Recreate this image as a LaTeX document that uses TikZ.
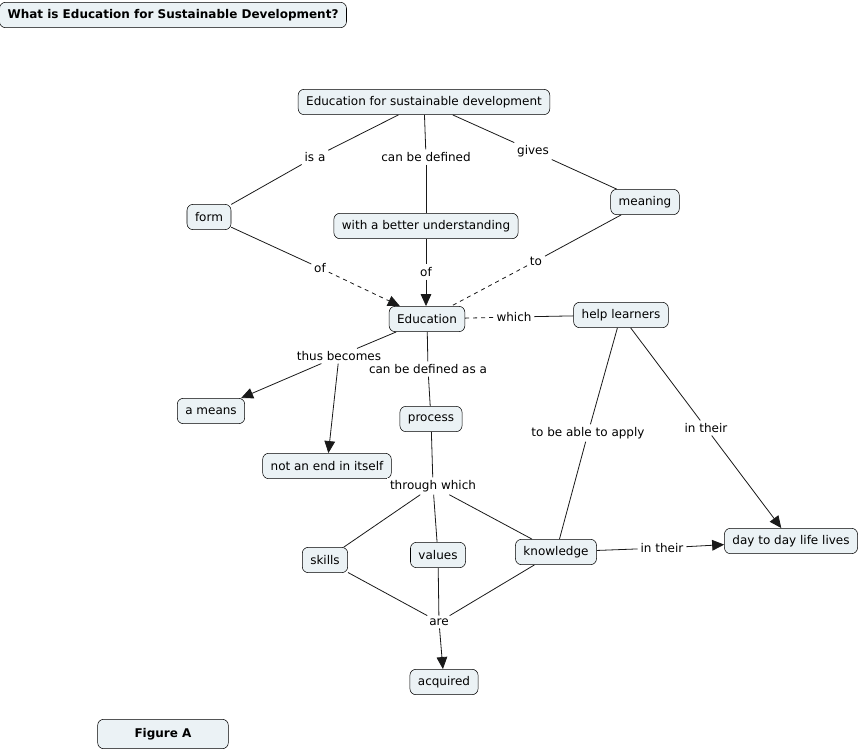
\documentclass[tikz,border=0pt]{standalone}
\usepackage{fontspec}
\setmainfont{DejaVu Sans}
\usetikzlibrary{positioning,arrows.meta}

\definecolor{cbox}{RGB}{235,242,245}

\begin{document}
\begin{tikzpicture}[
  x=0.75pt,y=-0.75pt,
  font=\fontsize{9}{11}\selectfont,
  >={Triangle[length=9pt,width=8pt]},
  concept/.style={rectangle,rounded corners=4.5pt,draw=black,fill=cbox,
                  align=center,inner xsep=6pt,inner ysep=0pt,minimum height=19pt},
  hdr/.style={concept,font=\fontsize{9}{11}\selectfont\bfseries},
  link/.style={fill=white,inner sep=2pt},
  ln/.style={draw=black!90,line width=0.6pt},
  arr/.style={ln,->},
  dsh/.style={ln,dashed}
]
\useasboundingbox (0,0) rectangle (861,752);

% ---- header and caption ----
\node[hdr,minimum width=258pt] (title) at (173,15) {What is Education for Sustainable Development?};
\node[hdr,minimum width=98pt,minimum height=22pt] (figa) at (163,734) {Figure A};

% ---- concepts ----
\node[concept] (esd) at (424,102) {Education for sustainable development};
\node[concept] (form) at (209,217) {form};
\node[concept] (wbu) at (426,226) {with a better understanding};
\node[concept] (mean) at (645,202) {meaning};
\node[concept] (edu) at (427,319) {Education};
\node[concept] (help) at (621,315) {help learners};
\node[concept] (means) at (211,411) {a means};
\node[concept] (notend) at (327,466) {not an end in itself};
\node[concept] (proc) at (431,419) {process};
\node[concept] (skills) at (325,560) {skills};
\node[concept] (vals) at (438,555) {values};
\node[concept] (know) at (556,552) {knowledge};
\node[concept] (daily) at (791,541) {day to day life lives};
\node[concept] (acq) at (444,682) {acquired};

% ---- linking phrases ----
\node[link] (isa) at (315,157) {is a};
\node[link] (cbd) at (426,157) {can be defined};
\node[link] (gives) at (533,151) {gives};
\node[link] (ofl) at (320,268) {of};
\node[link] (ofm) at (426,272) {of};
\node[link] (to) at (536,261) {to};
\node[link] (which) at (514,317) {which};
\node[link] (thus) at (339,356) {thus becomes};
\node[link] (cbda) at (428,369) {can be defined as a};
\node[link] (apply) at (588,433) {to be able to apply};
\node[link] (intr) at (706,428) {in their};
\node[link] (thru) at (433,486) {through which};
\node[link] (inbot) at (662,548) {in their};
\node[link] (are) at (439,622) {are};

% ---- connectors ----
\draw[ln] (esd) -- (isa);
\draw[ln] (isa) -- (form);
\draw[ln] (esd) -- (cbd);
\draw[ln] (cbd) -- (wbu);
\draw[ln] (esd) -- (gives);
\draw[ln] (gives) -- (mean);
\draw[ln] (form) -- (ofl);
\draw[dsh,->] (ofl) -- (edu);
\draw[ln] (wbu) -- (ofm);
\draw[arr] (ofm) -- (ofm |- edu.north);
\draw[ln] (mean) -- (to);
\draw[dsh] (to) -- (edu);
\draw[dsh] (edu) -- (which);
\draw[ln] (which) -- (help);
\draw[ln] (edu) -- (thus);
\draw[arr] (thus) -- (means);
\draw[arr] (thus) -- (notend);
\draw[ln] (edu) -- (cbda);
\draw[ln] (cbda) -- (proc);
\draw[ln] (help) -- (apply);
\draw[ln] (apply) -- (know);
\draw[ln] (help) -- (intr);
\draw[arr] (intr) -- (daily);
\draw[ln] (proc) -- (thru);
\draw[ln] (thru) -- (skills);
\draw[ln] (thru) -- (vals);
\draw[ln] (thru) -- (know);
\draw[ln] (know) -- (inbot);
\draw[arr] (inbot) -- (daily);
\draw[ln] (skills) -- (are);
\draw[ln] (vals) -- (are);
\draw[ln] (know) -- (are);
\draw[arr] (are) -- (acq);

\end{tikzpicture}
\end{document}
